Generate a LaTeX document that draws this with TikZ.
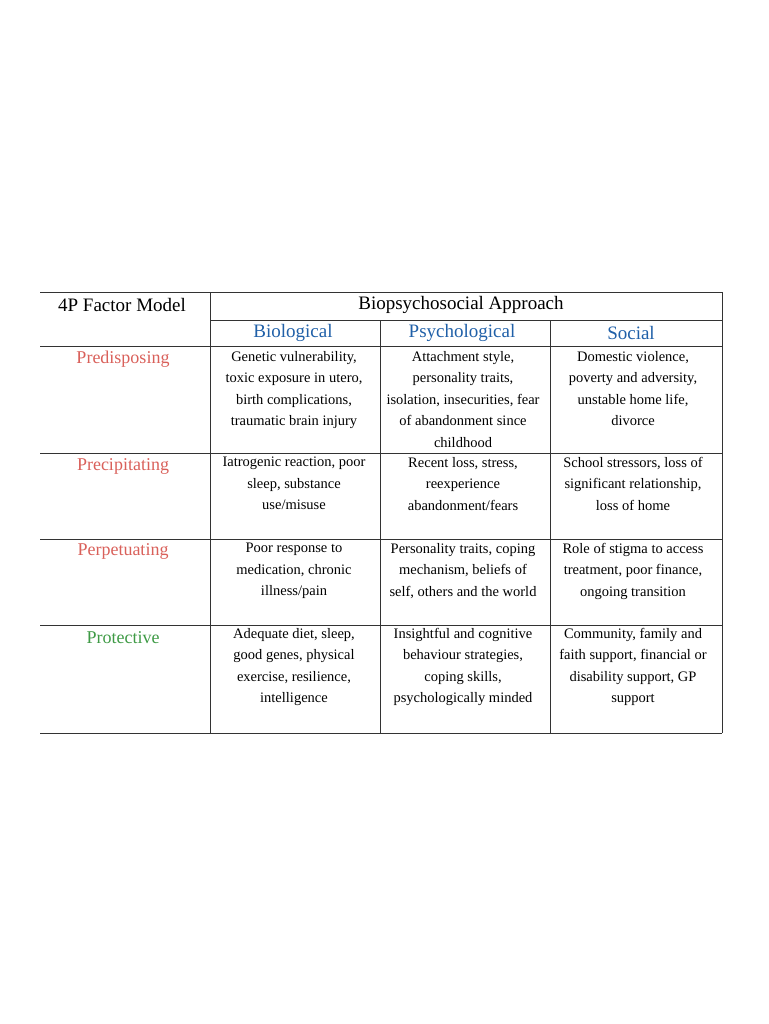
\documentclass[tikz,border=0pt]{standalone}
\usepackage{fontspec}
\setmainfont{Liberation Serif}
\definecolor{redlab}{HTML}{D9605A}
\definecolor{greenlab}{HTML}{3E9A45}
\definecolor{bluelab}{HTML}{2060A8}
\begin{document}
\begin{tikzpicture}[x=1pt,y=-1pt,
  grid/.style={line width=0.8pt,black!80},
  cell/.style={anchor=north,align=center,font=\fontsize{14.5}{21.5}\selectfont,inner sep=0pt},
  rowlab/.style={anchor=center,font=\fontsize{18}{20}\selectfont},
  colhead/.style={anchor=center,font=\fontsize{19}{20}\selectfont,text=bluelab}]
\useasboundingbox (0,0) rectangle (768,1024);
% grid
\draw[grid] (40,292) -- (722,292);
\draw[grid] (210,320) -- (722,320);
\foreach \y in {346,453,539,625,733} \draw[grid] (40,\y) -- (722,\y);
\foreach \x in {210,722} \draw[grid] (\x,292) -- (\x,733);
\foreach \x in {380,550} \draw[grid] (\x,320) -- (\x,733);
% headers
\node[rowlab,font=\fontsize{19}{20}\selectfont] (h0) at (122,305) {4P Factor Model};
\node[font=\fontsize{19}{20}\selectfont] (h1) at (461,305) {Biopsychosocial Approach};
\node[colhead] (cb) at (293,333) {Biological};
\node[colhead] (cp) at (462,333) {Psychological};
\node[colhead] (cs) at (631,333) {Social};
% row labels
\node[rowlab,text=redlab] (r1) at (123,359) {Predisposing};
\node[rowlab,text=redlab] (r2) at (123,466) {Precipitating};
\node[rowlab,text=redlab] (r3) at (123,551) {Perpetuating};
\node[rowlab,text=greenlab] (r4) at (123,638) {Protective};
% row 1
\node[cell] (a1) at (294,351) {Genetic vulnerability,\\toxic exposure in utero,\\birth complications,\\traumatic brain injury};
\node[cell] (b1) at (463,351) {Attachment style,\\personality traits,\\isolation, insecurities, fear\\of abandonment since\\childhood};
\node[cell] (c1) at (633,351) {Domestic violence,\\poverty and adversity,\\unstable home life,\\divorce};
% row 2
\node[cell] (a2) at (294,457) {Iatrogenic reaction, poor\\sleep, substance\\use/misuse};
\node[cell] (b2) at (463,457) {Recent loss, stress,\\reexperience\\abandonment/fears};
\node[cell] (c2) at (633,457) {School stressors, loss of\\significant relationship,\\loss of home};
% row 3
\node[cell] (a3) at (294,543) {Poor response to\\medication, chronic\\illness/pain};
\node[cell] (b3) at (463,543) {Personality traits, coping\\mechanism, beliefs of\\self, others and the world};
\node[cell] (c3) at (633,543) {Role of stigma to access\\treatment, poor finance,\\ongoing transition};
% row 4
\node[cell] (a4) at (294,628) {Adequate diet, sleep,\\good genes, physical\\exercise, resilience,\\intelligence};
\node[cell] (b4) at (463,628) {Insightful and cognitive\\behaviour strategies,\\coping skills,\\psychologically minded};
\node[cell] (c4) at (633,628) {Community, family and\\faith support, financial or\\disability support, GP\\support};
\end{tikzpicture}
\end{document}
